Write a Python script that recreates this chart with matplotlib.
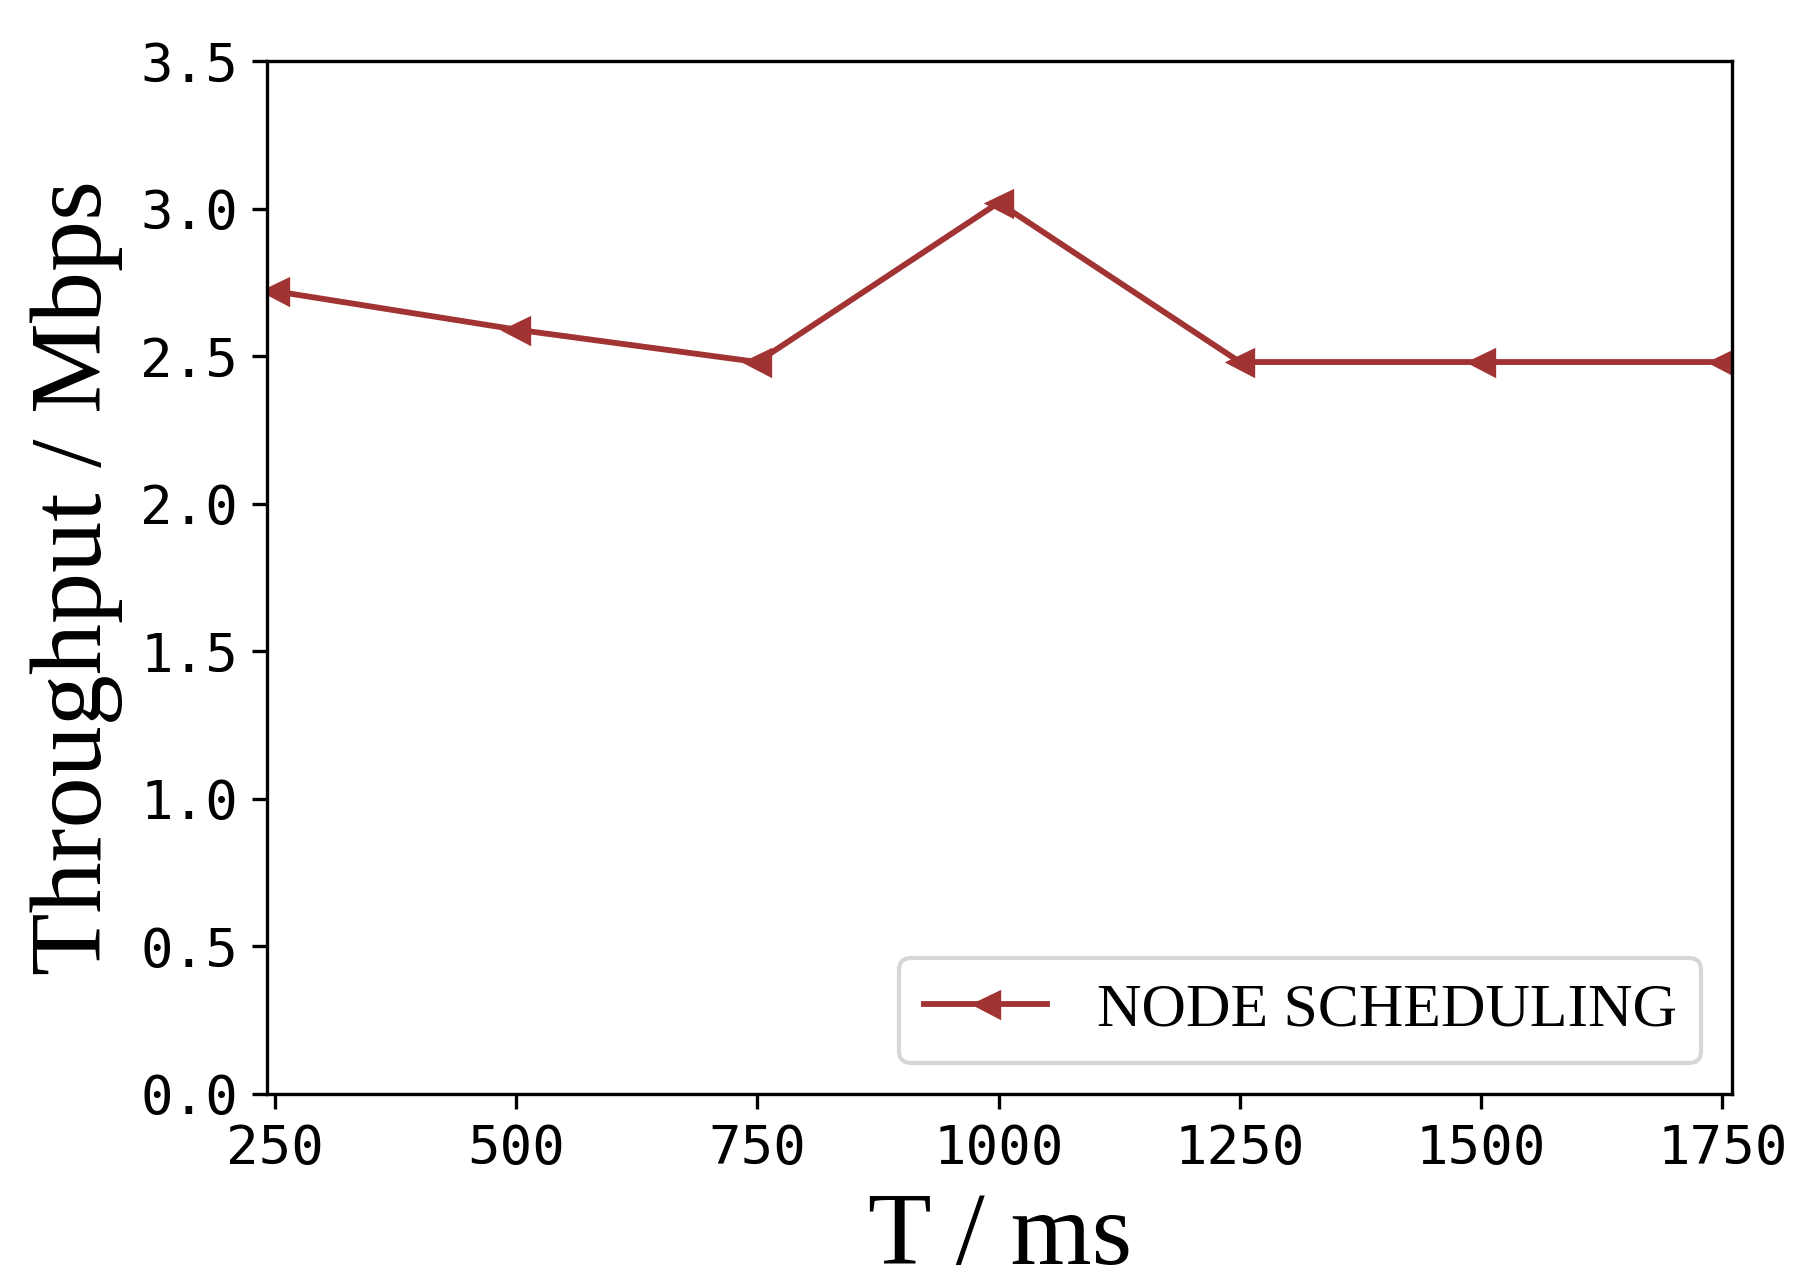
import matplotlib
matplotlib.use("Agg")
import matplotlib.pyplot as plt
from matplotlib.ticker import FixedLocator, FormatStrFormatter

# Data
t_ms = [250, 500, 750, 1000, 1250, 1500, 1750]
throughput = [2.72, 2.59, 2.48, 3.02, 2.48, 2.48, 2.48]
series_label = "NODE SCHEDULING"
x_ticks = [250, 500, 750, 1000, 1250, 1500, 1750]
y_ticks = [0.0, 0.5, 1.0, 1.5, 2.0, 2.5, 3.0, 3.5]

fig = plt.figure(figsize=(1796 / 300, 1284 / 300), dpi=300)
ax = fig.add_axes([0.1487, 0.148, 0.9644 - 0.1487, 0.9525 - 0.148])

ax.plot(t_ms, throughput, color="#a23333", linewidth=1.4,
        marker="<", markersize=6, markeredgewidth=0.8,
        markeredgecolor="#a23333", markerfacecolor="#a23333",
        label=series_label)

ax.set_xlim(242, 1760)
ax.set_ylim(0, 3.5)
ax.xaxis.set_major_locator(FixedLocator(x_ticks))
ax.yaxis.set_major_locator(FixedLocator(y_ticks))
ax.yaxis.set_major_formatter(FormatStrFormatter("%.1f"))

for lab in ax.get_xticklabels() + ax.get_yticklabels():
    lab.set_fontfamily("DejaVu Sans Mono")
    lab.set_fontsize(13)

ax.set_xlabel("T / ms", fontfamily="Liberation Serif", fontsize=25, labelpad=4)
ax.set_ylabel("Throughput / Mbps", fontfamily="Liberation Serif", fontsize=24.5, labelpad=4)

ax.legend(loc="lower right", prop={"family": "Liberation Serif", "size": 14.8})

fig.savefig("out.png", dpi=300)
